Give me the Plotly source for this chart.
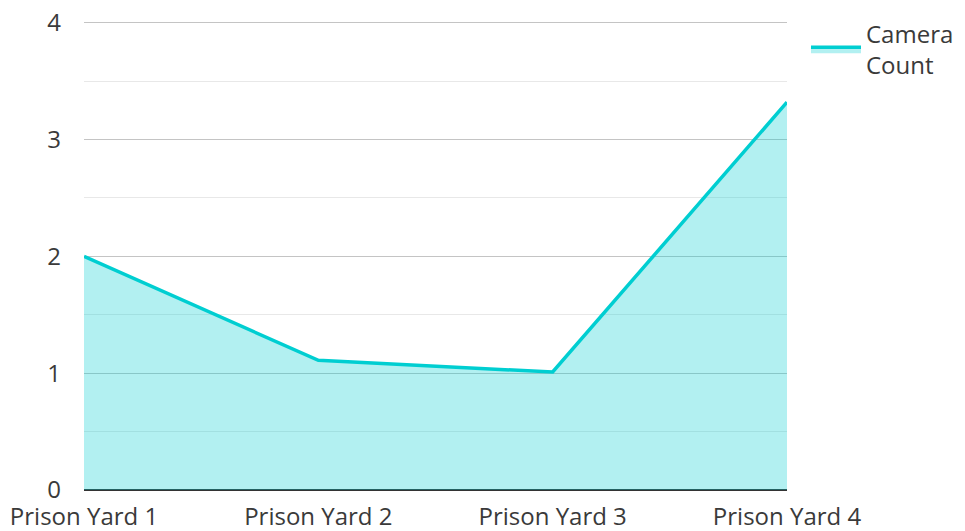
import plotly.graph_objects as go

categories = ["Prison Yard 1", "Prison Yard 2", "Prison Yard 3", "Prison Yard 4"]
camera_count = [2.0, 1.11, 1.01, 3.32]
series_name = "Camera<br>Count"

line_color = "rgb(0,206,209)"
fill_color = "rgba(0,206,209,0.3)"

fig = go.Figure()
fig.add_trace(go.Scatter(
    x=categories, y=camera_count, name=series_name,
    mode="lines", fill="tozeroy", fillcolor=fill_color,
    line=dict(color=line_color, width=3.5),
    showlegend=True,
))

# page body has an 8px margin, so the figure is shrunk by 8px and margins shifted
fig.update_layout(
    width=957, height=523,
    margin=dict(l=76, r=178, t=13.25, b=41, autoexpand=False),
    paper_bgcolor="white", plot_bgcolor="white",
    font=dict(family="Open Sans", size=24, color="#3a3a3a"),
    xaxis=dict(
        range=[0, 3], showgrid=False, zeroline=False,
        showline=False, ticks="", ticklabelstandoff=10,
        ticklabeloverflow="allow",
    ),
    yaxis=dict(
        range=[0, 4.015], tickvals=[0, 1, 2, 3, 4],
        showgrid=True, gridcolor="#c4c4c4", gridwidth=1,
        zeroline=True, zerolinecolor="#333", zerolinewidth=2,
        showline=False, ticks="", ticklabelstandoff=22,
        ticklabeloverflow="allow",
        minor=dict(tickvals=[0.5, 1.5, 2.5, 3.5], showgrid=True,
                   gridcolor="#e8e8e8", gridwidth=1),
    ),
    legend=dict(x=1.027, y=1.020, xanchor="left", yanchor="top",
                itemwidth=50, tracegroupgap=0),
)

fig.write_html("out.html")
